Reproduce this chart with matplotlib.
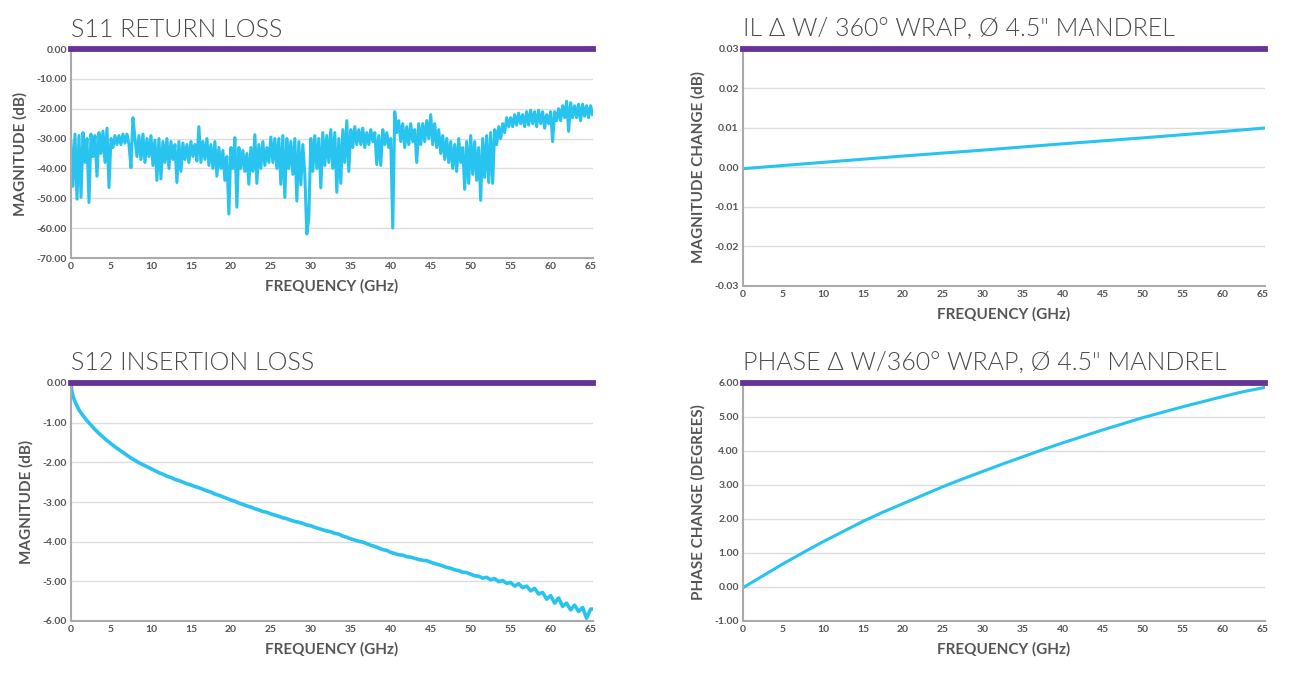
import numpy as np
import matplotlib
matplotlib.use("Agg")
import matplotlib.pyplot as plt
from matplotlib.ticker import FormatStrFormatter

# S11 return loss, every 0.25 GHz (0 .. 65.25)
s11_freq = np.arange(0, 65.5, 0.25)
s11_db = [
    -31, -46, -28.5, -50.3,  -29, -49.7, -28, -38,  -30, -51.4, -28.5, -36,
    -29, -42.6, -28, -35,  -27.5, -38, -26.5, -46.4,  -30, -33, -29, -32,
    -29, -32, -28.5, -31.5,  -28.5, -32, -39.7, -23,  -30, -36, -29, -37,
    -28.5, -38, -30, -36,  -29, -39, -30.5, -44,  -30, -43.5, -31, -38,
    -30, -40, -31, -37,  -32, -44.7, -31, -41,  -31.5, -37, -32, -38,
    -31, -36, -32, -37.5,  -26, -38, -31, -37,  -30, -39, -32, -40,
    -31, -42.6, -33, -40,  -34, -44, -36, -55.3,  -33, -40, -29.7, -53,
    -33, -40, -34, -41,  -35, -45.3, -33, -41,  -28.7, -45, -32, -40,
    -31, -39, -33, -38,  -29.5, -38, -30, -40,  -30, -45.3, -29, -49.7,
    -30, -40, -31, -42,  -30, -50.9, -31, -45.5,  -32, -42, -62, -56.4,
    -30, -41, -29, -40,  -30, -46.5, -28, -39,  -29, -38, -27, -40,
    -28, -48, -30, -45,  -27, -38, -24, -41,  -27, -33, -26, -32,
    -27, -32, -26.5, -33,  -28, -32, -27, -31,  -28, -38.7, -29, -39,
    -27, -32, -28, -33,  -30, -60, -21, -28,  -24, -31, -25, -33,
    -26, -32, -25, -31,  -27, -38, -25, -32,  -25, -31, -24, -30,
    -22, -32, -25, -33,  -27, -35, -29, -37,  -30, -38, -31, -40,
    -32, -41, -30, -38,  -33, -47, -31, -45,  -29, -42, -31, -44,
    -33, -50.7, -30, -43,  -29, -44.7, -28, -45,  -27, -32, -26, -30,
    -25, -28, -23, -26,  -23, -26, -22, -25.5,  -21.5, -25, -22, -26,
    -21, -25.5, -20.5, -25,  -21, -26, -20.5, -25,  -21, -26.5, -22, -25,
    -21, -31, -21, -24,  -20, -24, -19, -23,  -17.5, -27.6, -18, -23,
    -19, -23, -18.5, -24,  -18.5, -22.5, -19, -23,  -19, -22,
]

# S12 insertion loss
s12_freq = [0, 0.1, 0.25] + list(np.arange(0.5, 65.5, 0.5)) + [65.3]
s12_db = [
    0.00, -0.20, -0.33,
    -0.47, -0.68, -0.82, -0.95, -1.06, -1.17, -1.27, -1.36, -1.45, -1.53,
    -1.61, -1.68, -1.75, -1.82, -1.89, -1.95, -2.01, -2.06, -2.11, -2.16,
    -2.21, -2.26, -2.30, -2.35, -2.38, -2.43, -2.46, -2.50, -2.54, -2.57,
    -2.61, -2.64, -2.68, -2.72, -2.75, -2.80, -2.83, -2.87, -2.91, -2.95,
    -2.98, -3.03, -3.06, -3.10, -3.13, -3.17, -3.20, -3.24, -3.26, -3.30,
    -3.33, -3.36, -3.40, -3.42, -3.46, -3.49, -3.51, -3.54, -3.58, -3.60,
    -3.64, -3.67, -3.70, -3.73, -3.75, -3.79, -3.81, -3.86, -3.89, -3.93,
    -3.96, -3.99, -4.01, -4.05, -4.09, -4.12, -4.16, -4.20, -4.22, -4.27,
    -4.30, -4.33, -4.34, -4.38, -4.39, -4.42, -4.45, -4.47, -4.48, -4.52,
    -4.55, -4.58, -4.61, -4.65, -4.67, -4.71, -4.73, -4.77, -4.78, -4.82,
    -4.86, -4.87, -4.92, -4.90, -4.96, -4.93, -5.01, -4.98, -5.05, -5.03,
    -5.12, -5.06, -5.16, -5.12, -5.24, -5.18, -5.32, -5.28, -5.45, -5.36,
    -5.55, -5.42, -5.63, -5.55, -5.72, -5.60, -5.76, -5.66, -5.93, -5.70,
    -5.70,
]

# insertion loss change with 360 deg wrap
il_freq = [0, 10, 20, 30, 40, 50, 60, 65.3]
il_delta = [-0.0003, 0.0013, 0.0029, 0.0044, 0.0060, 0.0075, 0.0091, 0.0100]

# phase change with 360 deg wrap
ph_freq = [0, 2.5, 5, 7.5, 10, 12.5, 15, 17.5, 20, 22.5, 25, 27.5, 30, 32.5,
           35, 37.5, 40, 42.5, 45, 47.5, 50, 52.5, 55, 57.5, 60, 62.5, 65.3]
ph_deg = [-0.02, 0.33, 0.68, 1.01, 1.33, 1.63, 1.93, 2.20, 2.45, 2.70, 2.95,
          3.18, 3.40, 3.62, 3.83, 4.04, 4.24, 4.43, 4.62, 4.80, 4.98, 5.14,
          5.30, 5.45, 5.60, 5.74, 5.87]

LINE = "#29c3f0"
PURPLE = "#663399"
TXT = "#555555"
FONT = "Lato"

W, H = 1311, 681
fig = plt.figure(figsize=(W / 100, H / 100), dpi=100)


def make_axes(px_left, px_top, px_right, px_bottom):
    return fig.add_axes([px_left / W, 1 - px_bottom / H,
                         (px_right - px_left) / W, (px_bottom - px_top) / H])


def style(ax, title, ylabel, ylim, yticks, fmt):
    ax.set_xlim(0, 65.3)
    ax.set_ylim(*ylim)
    ax.set_xticks(range(0, 66, 5))
    ax.set_yticks(yticks)
    ax.yaxis.set_major_formatter(FormatStrFormatter(fmt))
    ax.grid(axis="y", color="#dddddd", lw=1)
    ax.set_axisbelow(True)
    for s in ["top", "right"]:
        ax.spines[s].set_visible(False)
    for s in ["left", "bottom"]:
        ax.spines[s].set_color("#aaaaaa")
        ax.spines[s].set_linewidth(1.5)
    ax.tick_params(length=0, pad=3, labelsize=7.5, labelcolor=TXT)
    for lab in ax.get_xticklabels() + ax.get_yticklabels():
        lab.set_fontweight("bold")
        lab.set_family(FONT)
    ax.set_xlabel("FREQUENCY (GHz)", fontsize=11, fontweight="bold",
                  color=TXT, family=FONT, labelpad=6)
    ax.set_ylabel(ylabel, fontsize=11, fontweight="bold", color=TXT,
                  family=FONT, labelpad=6)
    # purple bar across the top
    ax.axhline(ylim[1], color="#cbb8e0", lw=1.2, zorder=4)
    ax.axhline(ylim[1], color=PURPLE, lw=4.2, zorder=5, clip_on=False)
    ax.text(0, 1.035, title, transform=ax.transAxes, ha="left", va="bottom",
            fontsize=18, fontweight=300, color="#4a4a4a", family=FONT)


ax1 = make_axes(71, 49, 593, 258)
ax1.plot(s11_freq, s11_db, color=LINE, lw=2.2)
style(ax1, "S11 RETURN LOSS", "MAGNITUDE (dB)", (-70, 0),
      np.arange(-70, 1, 10), "%.2f")

ax2 = make_axes(743, 49, 1265, 286)
ax2.plot(il_freq, il_delta, color=LINE, lw=2.2)
style(ax2, "IL \u0394 W/ 360\u00b0 WRAP, \u00d8 4.5\" MANDREL",
      "MAGNITUDE CHANGE (dB)", (-0.03, 0.03),
      [-0.03, -0.02, -0.01, 0.0, 0.01, 0.02, 0.03], "%.2f")

ax3 = make_axes(71, 383, 593, 621)
ax3.plot(s12_freq, s12_db, color=LINE, lw=2.6)
style(ax3, "S12 INSERTION LOSS", "MAGNITUDE (dB)", (-6, 0),
      np.arange(-6, 1, 1), "%.2f")

ax4 = make_axes(743, 383, 1265, 621)
ax4.plot(ph_freq, ph_deg, color=LINE, lw=2.2)
style(ax4, "PHASE \u0394 W/360\u00b0 WRAP, \u00d8 4.5\" MANDREL",
      "PHASE CHANGE (DEGREES)", (-1, 6), np.arange(-1, 7, 1), "%.2f")

fig.savefig("out.png", dpi=100, facecolor="white")
